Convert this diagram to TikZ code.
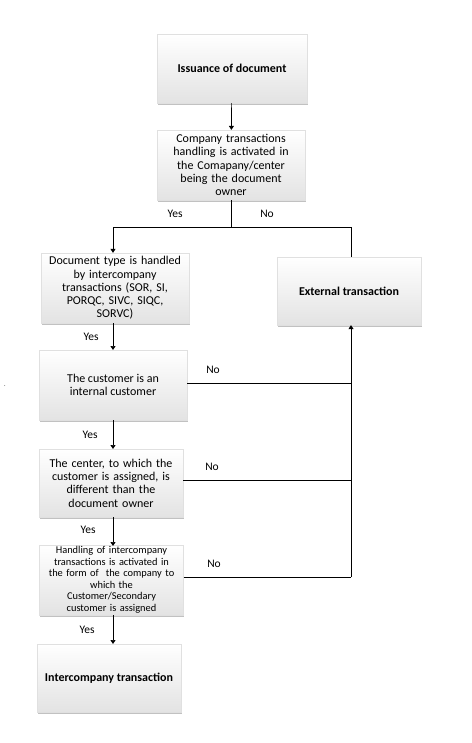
\documentclass[tikz,border=0pt]{standalone}
\usepackage{fontspec}
\setmainfont{Carlito}
\usetikzlibrary{shadows,arrows.meta}
\begin{document}
\begin{tikzpicture}[x=1pt,y=-1pt,
  box/.style={rectangle, top color=white, bottom color=black!11, draw=black!12, line width=0.3pt,
    align=center, inner sep=2pt, font=\fontsize{12}{13.3}\selectfont,
    drop shadow={shadow xshift=0.8pt, shadow yshift=-1.8pt, opacity=0.4, fill=black!60}},
  bbox/.style={box, font=\fontsize{12}{13.3}\selectfont\bfseries},
  sbox/.style={box, font=\fontsize{10.4}{11.5}\selectfont},
  lab/.style={font=\fontsize{11.5}{13}\selectfont, inner sep=0pt},
  arr/.style={-{Triangle[length=4pt,width=5pt]}, line width=0.7pt},
  ln/.style={line width=0.7pt}]
\useasboundingbox (0,0) rectangle (471,743);
\fill[white] (0,0) rectangle (471,743);

\node[bbox, minimum width=150pt, minimum height=69pt] (b1) at (232,68.5) {Issuance of document};
\node[box, minimum width=148pt, minimum height=70pt, text width=144pt] (b2) at (231,165) {Company transactions\\handling is activated in\\the Comapany/center\\being the document\\owner};
\node[box, minimum width=148pt, minimum height=70pt, text width=144pt] (b3) at (115,288) {Document type is handled\\by intercompany\\transactions (SOR, SI,\\PORQC, SIVC, SIQC,\\SORVC)};
\node[bbox, minimum width=144pt, minimum height=68pt] (ext) at (349,291) {External transaction};
\node[box, minimum width=148pt, minimum height=70pt] (b4) at (113,385) {The customer is an\\internal customer};
\node[box, minimum width=144pt, minimum height=68pt, text width=140pt] (b5) at (111,483) {The center, to which the\\customer is assigned, is\\different than the\\document owner};
\node[sbox, minimum width=143pt, minimum height=68pt, text width=140pt] (b6) at (111.5,580) {Handling of intercompany\\transactions is activated in\\the form of\ \ the company to\\which the\\Customer/Secondary\\customer is assigned};
\node[bbox, minimum width=144pt, minimum height=68pt] (b7) at (109,678) {Intercompany transaction};

\coordinate (split) at (231,227);
\coordinate (jl) at (113,227);
\coordinate (jr) at (351,227);
\coordinate (j4) at (351,383);
\coordinate (j5) at (351,480);
\coordinate (j6) at (351,577);

\draw[arr] (b1) -- (b2);
\draw[ln] (b2.south) -- (split);
\draw[ln] (jl) -- (jr);
\draw[arr] (jl) -- (jl |- b3.north);
\draw[ln] (jr) -- (jr |- ext.north);
\draw[arr] (b3.south -| 113,0) -- (113,350);
\draw[arr] (b4.south -| 113,0) -- (113,449);
\draw[arr] (b5.south -| 113,0) -- (113,546);
\draw[arr] (b6.south -| 113,0) -- (113,644);
\draw[ln] (b4.east |- j4) -- (j4);
\draw[ln] (b5.east |- j5) -- (j5);
\draw[ln] (b6.east |- j6) -- (j6);
\draw[arr] (j6) -- (j6 |- ext.south);

\node[lab] (y0) at (175,214) {Yes};
\node[lab] (n0) at (267,214) {No};
\node[lab] (y1) at (91,337) {Yes};
\node[lab] (n1) at (213,370) {No};
\node[lab] (y2) at (90,435) {Yes};
\node[lab] (n2) at (212,467) {No};
\node[lab] (y3) at (88,530) {Yes};
\node[lab] (n3) at (214,564) {No};
\node[lab] (y4) at (87,630) {Yes};
\node[font=\fontsize{6}{6}\selectfont, inner sep=0pt] (dot) at (5,386) {.};
\end{tikzpicture}
\end{document}
